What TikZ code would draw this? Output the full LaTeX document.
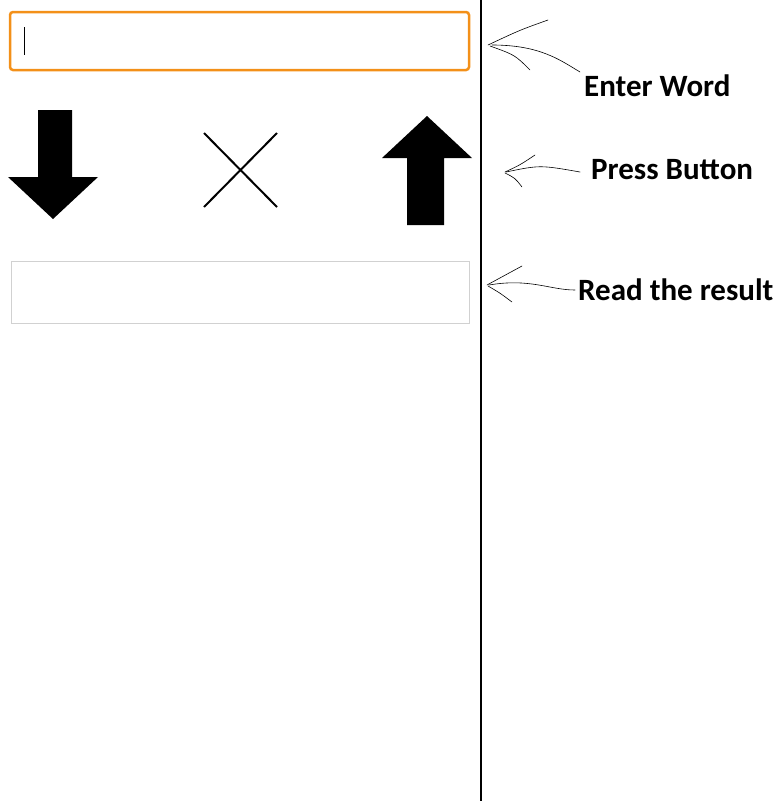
\documentclass[tikz,border=0pt]{standalone}
\usepackage{fontspec}
\setmainfont{Carlito}
\definecolor{focus}{HTML}{F39019}
\begin{document}
\begin{tikzpicture}[x=1pt,y=-1pt,
  lbl/.style={font=\bfseries\fontsize{31}{36}\selectfont,inner sep=0pt,anchor=west},
  sketch/.style={line width=0.6pt,line cap=round},
  solidarrow/.style={fill=black,draw=none}]
\useasboundingbox (0,0) rectangle (781,801);
\node[draw=focus,line width=2.5pt,rounded corners=3pt,minimum width=459pt,minimum height=58pt,inner sep=0pt] (input) at (239.5,41) {};
\draw[line width=0.8pt] (24,27) -- (24,55);
\fill[solidarrow] (38,110) -- (72,110) -- (72,177) -- (98,177) -- (53,219) -- (8,177) -- (38,177) -- cycle;
\draw[line width=2pt] (204,133) -- (277,207) (277,133) -- (204,207);
\fill[solidarrow] (427,116) -- (472,158) -- (444,158) -- (444,225) -- (407,225) -- (407,158) -- (382,158) -- cycle;
\node[draw=black!18,line width=0.8pt,minimum width=458pt,minimum height=62pt,inner sep=0pt] (output) at (240,292) {};
\draw[line width=2.5pt] (481,0) -- (481,801);
\node[lbl] (t1) at (584,86) {Enter Word};
\node[lbl] (t2) at (591,170) {Press Button};
\node[lbl] (t3) at (578,290) {Read the result};
\draw[sketch] (488,45) .. controls (520,30) .. (548,20);
\draw[sketch] (490,46) .. controls (515,55) .. (530,70);
\draw[sketch] (492,45) .. controls (540,45) and (560,60) .. (580,72);
\draw[sketch] (505,172) .. controls (520,165) .. (535,155);
\draw[sketch] (505,173) .. controls (515,178) .. (522,187);
\draw[sketch] (506,172) .. controls (540,165) .. (580,172);
\draw[sketch] (487,285) .. controls (505,275) .. (522,266);
\draw[sketch] (488,286) .. controls (500,293) .. (512,302);
\draw[sketch] (489,285) .. controls (530,278) and (550,290) .. (575,290);
\end{tikzpicture}
\end{document}
